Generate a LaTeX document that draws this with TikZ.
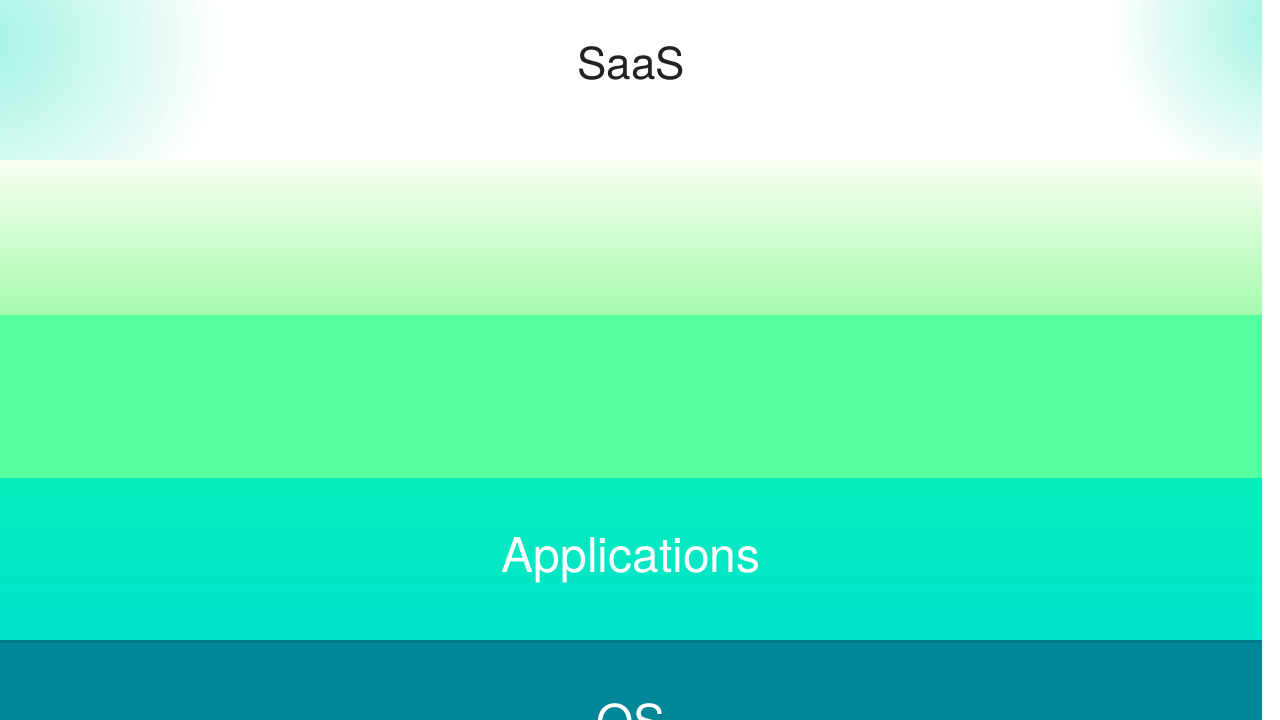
\documentclass[tikz,border=0pt]{standalone}
\usepackage{fontspec}
\setmainfont{TeX Gyre Heros}
\usetikzlibrary{fadings}
\definecolor{glow}{HTML}{A2F3E2}
\definecolor{paleTop}{HTML}{FAFFF2}
\definecolor{paleBot}{HTML}{A6F9AE}
\definecolor{greenBand}{HTML}{57FFA0}
\definecolor{appTop}{HTML}{08EDBC}
\definecolor{appBot}{HTML}{00E2CC}
\definecolor{osBand}{HTML}{008898}
\definecolor{osLine}{HTML}{007A88}
\definecolor{darkText}{HTML}{222222}
\tikzfading[name=glowfade, inner color=transparent!0, outer color=transparent!100]
\tikzset{
  band/.style={draw=none},
  lbl/.style={font=\fontsize{48}{48}\selectfont, anchor=base},
}
\begin{document}
\begin{tikzpicture}[x=1pt,y=-1pt]
\useasboundingbox (0,0) rectangle (1280,720);
\fill[white] (0,0) rectangle (1280,720);
\begin{scope}
\clip (0,0) rectangle (1280,720);
% top band with corner glows
\begin{scope}
\clip (0,0) rectangle (1262,160);
\fill[glow, path fading=glowfade] (-20,40) ellipse [x radius=240, y radius=220];
\fill[glow, path fading=glowfade] (1282,20) ellipse [x radius=170, y radius=170];
\end{scope}
% gradient band
\shade[band, top color=paleTop, bottom color=paleBot] (0,160) rectangle (1262,315);
% green band
\fill[greenBand] (0,315) rectangle (1262,478);
% applications band
\shade[band, top color=appTop, bottom color=appBot] (0,478) rectangle (1262,641);
% OS band
\fill[osBand] (0,641) rectangle (1262,720);
\fill[osLine] (0,640) rectangle (1262,643);
\node[lbl, text=darkText, font=\fontsize{44}{44}\selectfont] (saas) at (631,79) {SaaS};
\node[lbl, text=white] (apps) at (631,572) {Applications};
\node[lbl, text=white] (os) at (631,739) {OS};
\end{scope}
\end{tikzpicture}
\end{document}
